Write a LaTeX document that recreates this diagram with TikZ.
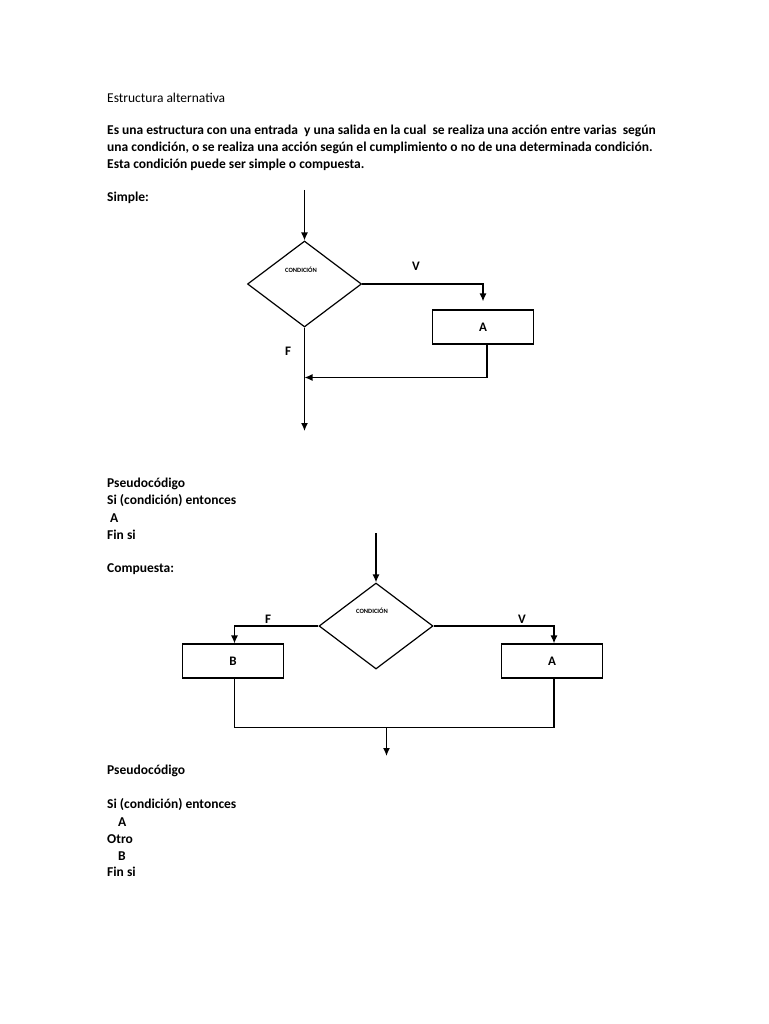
\documentclass[tikz,border=0pt]{standalone}
\usepackage{fontspec}
\setmainfont{Carlito}
\usetikzlibrary{shapes.geometric}
\usetikzlibrary{calc}
\usetikzlibrary{arrows.meta}

\begin{document}
\begin{tikzpicture}[x=1pt, y=-1pt]
        % ================= estilos =================
        \tikzset{
            % texto de la pagina
            texto/.style={anchor=west, inner sep=0pt, font=\fontsize{13.5}{17}\selectfont\bfseries},
            titulo/.style={anchor=west, inner sep=0pt, font=\fontsize{13.5}{17}\selectfont},
            % rombo de decision
            decision/.style={diamond, draw=black, line width=1.2pt, fill=white, minimum width=114pt, minimum height=86pt, inner sep=0pt},
            % caja de accion
            accion/.style={rectangle, draw=black, line width=1.2pt, fill=white, minimum width=101pt, minimum height=34pt, inner sep=0pt, font=\fontsize{13}{13}\selectfont\bfseries},
            etiqueta/.style={inner sep=0pt, font=\fontsize{13}{13}\selectfont\bfseries},
            mini/.style={inner sep=0pt, font=\fontsize{6.5}{6.5}\selectfont\bfseries},
            flecha/.style={line width=1.3pt, -{Latex[length=8pt,width=7pt]}},
            linea/.style={line width=1.3pt}
        }

        \useasboundingbox (0,0) rectangle (768,1024);

        % ================= textos =================
        \node[titulo] (tit) at (107,98) {Estructura alternativa};
        \node[texto] (p1) at (107,131) {Es una estructura con una entrada\ \ y una salida en la cual\ \ se realiza una acción entre varias\ \ según};
        \node[texto] (p2) at (107,148) {una condición, o se realiza una acción según el cumplimiento o no de una determinada condición.};
        \node[texto] (p3) at (107,165) {Esta condición puede ser simple o compuesta.};
        \node[texto] (simple) at (107,198) {Simple:};

        \node[texto] (ps1) at (107,484) {Pseudocódigo};
        \node[texto] (ps2) at (107,501) {Si (condición) entonces};
        \node[texto] (ps3) at (110,518) {A};
        \node[texto] (ps4) at (107,535) {Fin si};
        \node[texto] (comp) at (107,569) {Compuesta:};

        \node[texto] (pc1) at (107,771) {Pseudocódigo};
        \node[texto] (pc2) at (107,805) {Si (condición) entonces};
        \node[texto] (pc3) at (118,822) {A};
        \node[texto] (pc4) at (107,839) {Otro};
        \node[texto] (pc5) at (118,856) {B};
        \node[texto] (pc6) at (107,872) {Fin si};

        % ================= alternativa simple =================
        \coordinate (ent1) at (304.5,190);
        \node[decision] (cond1) at (304.5,284) {};
        \node[mini] (txt1) at (301,270) {CONDICIÓN};
        \node[accion] (a1) at (483,327) {A};
        \coordinate (a1out) at ($(a1.south)+(4,0)$);
        \coordinate (union1) at (304.5,377.5);
        \coordinate (sal1) at (304.5,431);

        \draw[flecha] (ent1) -- (cond1.north);
        \draw[flecha, shorten >=8pt] (cond1.east) -| (a1.north);
        \draw[flecha] (a1out) |- (union1);
        \draw[flecha] (cond1.south) -- (sal1);

        \node[etiqueta] (v1) at (416,266) {V};
        \node[etiqueta] (f1) at (288,351) {F};

        % ================= alternativa compuesta =================
        \coordinate (ent2) at (376,533);
        \node[decision] (cond2) at (376,626) {};
        \node[mini] (txt2) at (372,611) {CONDICIÓN};
        \node[accion] (b2) at (233,661) {B};
        \node[accion] (a2) at (552,661) {A};
        \coordinate (b2out) at ($(b2.south)+(1.5,0)$);
        \coordinate (a2out) at ($(a2.south)+(2,0)$);
        \coordinate (union2) at (386.5,727.5);
        \coordinate (sal2) at (386.5,756);

        \draw[flecha] (ent2) -- (cond2.north);
        \draw[flecha] (cond2.west) -| ($(b2.north)+(1.5,0)$);
        \draw[flecha] (cond2.east) -| ($(a2.north)+(2,0)$);
        \draw[linea] (b2out) |- (union2) -| (a2out);
        \draw[flecha] (union2) -- (sal2);

        \node[etiqueta] (f2) at (268,619) {F};
        \node[etiqueta] (v2) at (522,619) {V};

    \end{tikzpicture}
\end{document}
